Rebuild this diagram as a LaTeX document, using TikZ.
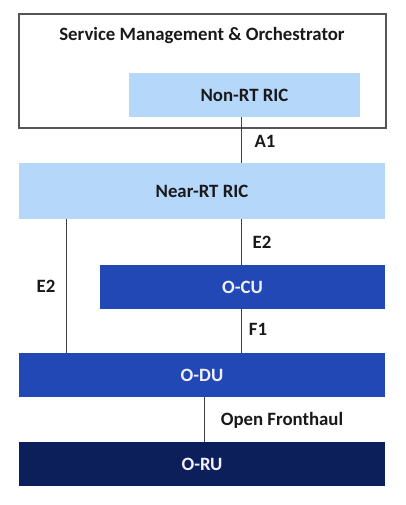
\documentclass[tikz,border=0pt]{standalone}
\usepackage{fontspec}
\setmainfont{Carlito}

\definecolor{ricblue}{HTML}{B4D7FA}
\definecolor{cublue}{HTML}{2148B4}
\definecolor{runavy}{HTML}{0C1F5A}
\definecolor{framegray}{HTML}{555555}

\begin{document}
\begin{tikzpicture}[x=1pt,y=-1pt,
    font=\fontsize{18.8}{22}\selectfont\bfseries,
    block/.style={inner sep=0pt,minimum height=44pt},
    ric/.style={block,fill=ricblue,text=black!90},
    unit/.style={block,text=white!94!blue},
    link/.style={draw=black!75,line width=0.8pt},
    iface/.style={text=black!90}]
          \useasboundingbox (0,0) rectangle (406,505);

          \node[draw=framegray,line width=1.2pt,minimum width=367pt,minimum height=114pt] (smo) at (202.5,71) {};
          \node[iface] (smotitle) at (202,35) {Service Management \& Orchestrator};
          \node[ric,minimum width=231pt] (nonrt) at (244.5,95) {Non-RT RIC};

          \node[ric,minimum width=366pt,minimum height=56pt] (nearrt) at (202,191) {Near-RT RIC};
          \node[unit,fill=cublue,minimum width=285pt] (ocu) at (242.5,287) {O-CU};
          \node[unit,fill=cublue,minimum width=366pt] (odu) at (202,375) {O-DU};
          \node[unit,fill=runavy,minimum width=366pt] (oru) at (202,464) {O-RU};

          \coordinate (spine) at (241,0);
          \coordinate (leftbus) at (66,0);
          \coordinate (fh) at (204,0);

          \draw[link] (nonrt.south -| spine) -- (nearrt.north -| spine);
          \draw[link] (nearrt.south -| spine) -- (ocu.north -| spine);
          \draw[link] (ocu.south -| spine) -- (odu.north -| spine);
          \draw[link] (nearrt.south -| leftbus) -- (odu.north -| leftbus);
          \draw[link] (odu.south -| fh) -- (oru.north -| fh);

          \node[iface] (a1) at (265,141) {A1};
          \node[iface] (e2cu) at (262,242) {E2};
          \node[iface] (e2du) at (46,286) {E2};
          \node[iface] (f1) at (258,329) {F1};
          \node[iface] (ofh) at (282,420) {Open Fronthaul};
        \end{tikzpicture}
\end{document}
